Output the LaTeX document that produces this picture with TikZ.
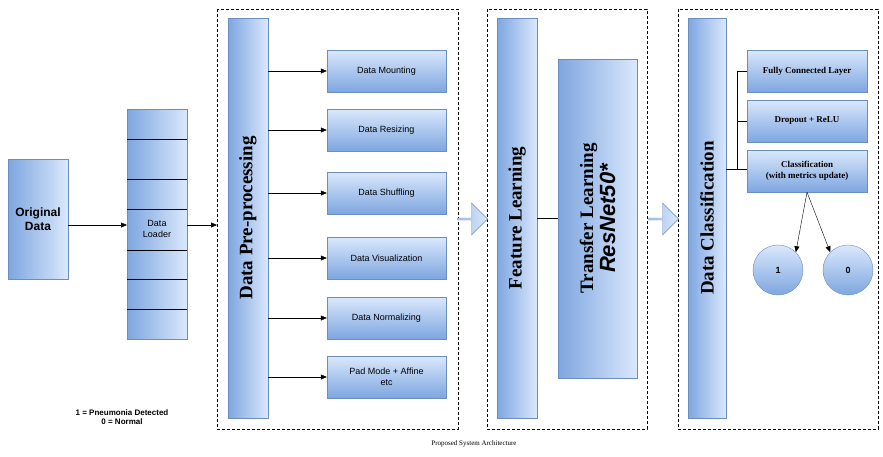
\documentclass[tikz,border=0pt]{standalone}
\usepackage{fontspec}
\setmainfont{Liberation Serif}
\newfontfamily\sans{Liberation Sans}
\usetikzlibrary{shapes.arrows,arrows.meta}
\definecolor{dk}{HTML}{7EA6E0}
\definecolor{lt}{HTML}{DAE8FC}
\definecolor{bd}{HTML}{6C8EBF}
\begin{document}
\begin{tikzpicture}[x=1pt,y=-1pt,
 hbox/.style={draw=bd,left color=dk,right color=lt},
 vbox/.style={draw=bd,top color=lt,bottom color=dk,minimum width=119pt,minimum height=42pt,font=\sans\small,align=center},
 cbox/.style={draw=bd,top color=lt,bottom color=dk,minimum width=120pt,minimum height=42pt,font=\small\bfseries,align=center,inner sep=1pt},
 dbox/.style={draw,densely dashed,thin},
 arr/.style={-{Triangle[length=6pt,width=5pt]},thin},
 bar/.style={font=\bfseries\fontsize{19}{20}\selectfont,rotate=90},
 barr/.style={hbox,draw=bd},
 circ/.style={circle,draw=bd,top color=lt,bottom color=dk,minimum size=50pt,font=\sans\bfseries\small},
 blk/.style={single arrow,draw=bd,left color=dk!70,right color=lt,minimum height=30pt,minimum width=32pt,single arrow head extend=3pt,inner sep=0pt}]
\useasboundingbox (0,0) rectangle (883,456);
% original data
\node[hbox,minimum width=60pt,minimum height=120pt,font=\sans\bfseries\large,align=center] (orig) at (38,219) {Original\\Data};
% data loader stack
\fill[left color=dk,right color=lt] (127,109) rectangle (187,339);
\draw[bd] (127,109) rectangle (187,339);
\foreach \y in {139,179,209,250,279,309} \draw (127,\y) -- (187,\y);
\node[font=\sans\small,align=center] (dl) at (157,229) {Data\\Loader};
\coordinate (dlL) at (127,225);
\coordinate (dlR) at (187,225);
\coordinate (b1L) at (217,225);
\draw[arr] (orig.east|-dlL) -- (dlL);
\draw[arr] (dlR) -- (b1L);
% dashed boxes
\draw[dbox] (217,9) rectangle (458,429);
\draw[dbox] (487,9) rectangle (647,429);
\draw[dbox] (678,9) rectangle (878,429);
% bars
\node[barr,minimum width=40pt,minimum height=400pt] (pre) at (248,218) {};
\node[bar] at (pre) {Data Pre-processing};
\node[barr,minimum width=40pt,minimum height=400pt] (feat) at (517,218) {};
\node[bar] at (feat) {Feature Learning};
\node[barr,minimum width=38pt,minimum height=400pt] (cls) at (707,218) {};
\node[bar] at (cls) {Data Classification};
% preprocessing steps
\foreach \n/\y/\t in {m/71/Data Mounting,r/130/Data Resizing,s/193/Data Shuffling,v/258/Data Visualization,n/318/Data Normalizing,p/377/{Pad Mode + Affine\\etc}}{
 \node[vbox] (\n) at (386.5,\y) {\t};
 \draw[arr] (pre.east|-\n) -- (\n.west);
}
% transfer learning
\node[barr,minimum width=79pt,minimum height=319pt] (tl) at (597.5,218.5) {};
\node[rotate=90,align=center,font=\bfseries\fontsize{19}{22}\selectfont] at (tl) {Transfer Learning\\{\sans\itshape\fontsize{22}{24}\selectfont ResNet50*}};
\draw (feat.east|-tl) -- (tl.west);
% block arrows
\node[blk] (a1) at (472,219) {};
\node[blk] (a2) at (663,219) {};
% classification boxes
\node[cbox] (fc) at (807,71) {Fully Connected Layer};
\node[cbox] (dr) at (807,121) {Dropout + ReLU};
\node[cbox] (cl) at (807,171) {Classification\\(with metrics update)};
\coordinate (j) at (737,169);
\draw (cls.east|-j) -- (j) (737,71) -- (j);
\draw (737,71) -- (fc.west) (737,121) -- (dr.west) (j) -- (cl.west|-j);
\node[circ] (c1) at (778,270) {1};
\node[circ] (c0) at (848,270) {0};
\draw[arr] (cl.south) -- (c1.north east);
\draw[arr] (cl.south) -- (c0.north west);
\node[font=\sans\bfseries\footnotesize,align=center] (leg) at (122,417) {1 = Pneumonia Detected\\0 = Normal};
\node[font=\scriptsize] (cap) at (474,444) {Proposed System Architecture};
\end{tikzpicture}
\end{document}
